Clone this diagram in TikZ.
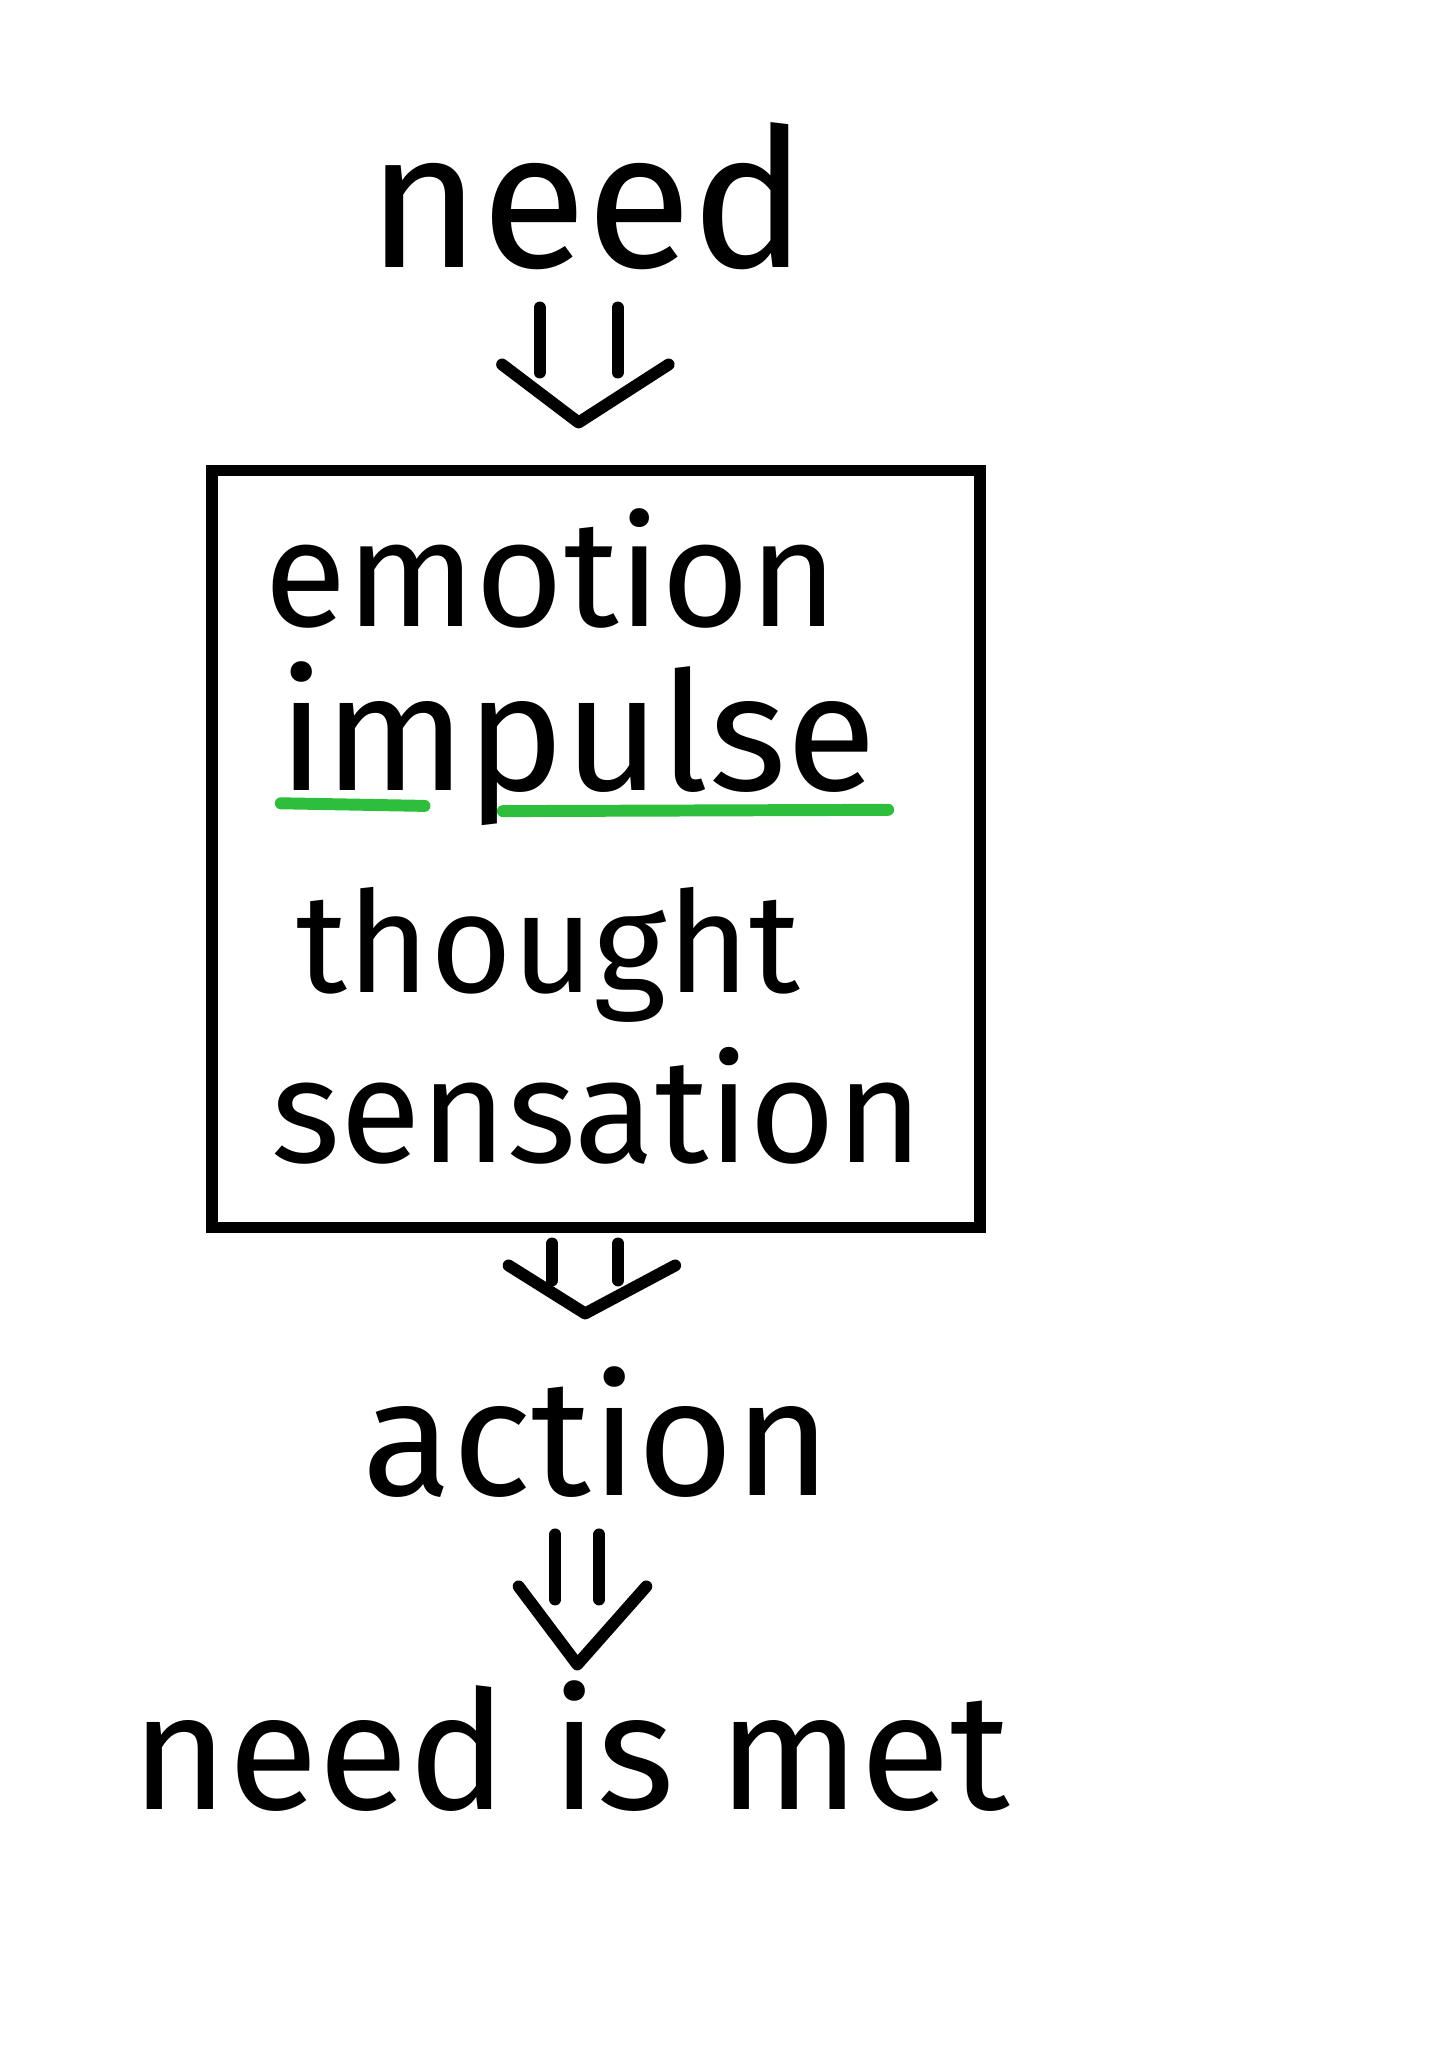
\documentclass[tikz,border=0pt]{standalone}
\usepackage{fontspec}
\setmainfont{Fira Sans}
\definecolor{markgreen}{RGB}{45, 190, 60}

% hand-drawn style double arrow: two short shafts above an open V
% #1 = tip, #2 = half gap, #3/#4 = shaft top/bottom above tip, #5 = V height, #6 = V half width
\newcommand{\dblarrow}[6]{%
  \draw[shaft] ([xshift=-#2, yshift=#3]#1) -- ([xshift=-#2, yshift=#4]#1);
  \draw[shaft] ([xshift=#2, yshift=#3]#1) -- ([xshift=#2, yshift=#4]#1);
  \draw[shaft, line join=round] ([xshift=-0.85*#6, yshift=#5]#1) -- (#1)
    -- ([xshift=#6, yshift=#5]#1);
}

\begin{document}
\begin{tikzpicture}[
  x=0.013057cm, y=-0.013057cm,
  word/.style={anchor=base, inner sep=0pt, font=\fontsize{#1}{#1}\selectfont},
  word/.default=47,
  frame/.style={draw, line width=3.4pt, minimum width=7.68cm, minimum height=7.57cm},
  shaft/.style={line width=3.4pt, line cap=round},
  uline/.style={markgreen, line width=3.4pt, line cap=round}
]
\useasboundingbox (0,0) rectangle (1109,1568);

%% -- top: the need --
\node[word=55] (need) at (450,205) {need};

%% -- box with the four inner events --
\node[frame] (box) at (456,650) {};
\node[word=43] (emotion)   at (422,480) {emotion};
\node[word=47] (impulse)   at (442,605) {impulse};
\node[word=40] (thought)   at (420,760) {thought};
\node[word=42] (sensation) at (457,890) {sensation};

%% -- green marks under impulse --
\draw[uline] (215,615) -- (325,617);
\draw[uline] (385,621) -- (680,620);

%% -- below the box --
\node[word=47] (action) at (457,1145) {action};
\node[word=47] (met)    at (437,1385) {need is met};

%% -- arrows --
\coordinate (tip1) at ([yshift=0.42cm]box.north -| 443,0);
\coordinate (tip2) at ([yshift=-0.8cm]box.south -| 448,0);
\coordinate (tip3) at ([yshift=0.15cm]met.north -| 442,0);
\dblarrow{tip1}{0.39cm}{1.15cm}{0.5cm}{0.58cm}{0.9cm}
\dblarrow{tip2}{0.33cm}{0.7cm}{0.33cm}{0.48cm}{0.9cm}
\dblarrow{tip3}{0.22cm}{1.3cm}{0.65cm}{0.78cm}{0.69cm}

\end{tikzpicture}
\end{document}
